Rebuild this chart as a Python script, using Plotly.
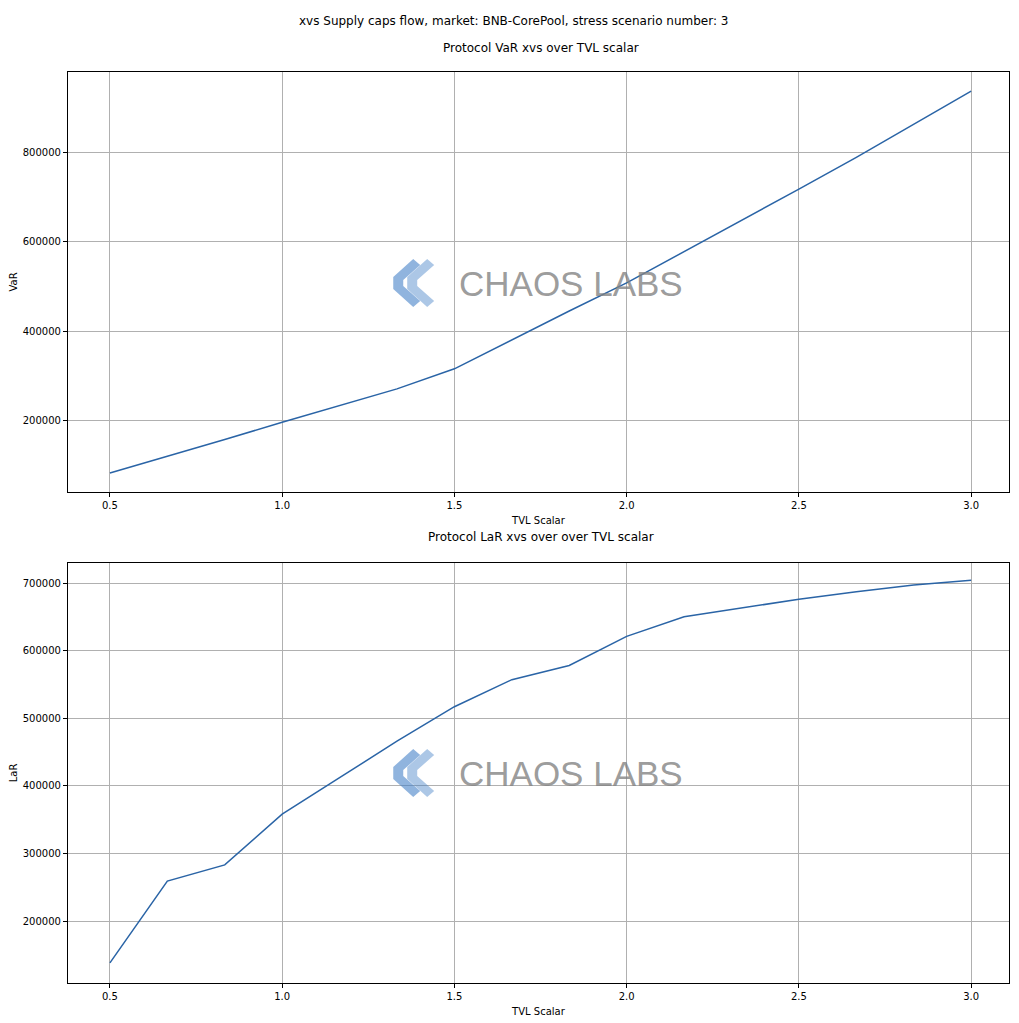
import plotly.graph_objects as go

tvl = [0.5, 0.6667, 0.8333, 1.0, 1.1667, 1.3333, 1.5, 1.6667, 1.8333, 2.0, 2.1667, 2.3333, 2.5, 2.6667, 2.8333, 3.0]
var_vals = [81000, 118000, 156000, 195000, 232000, 270000, 315000, 380000, 445000, 508000, 578000, 648000, 719000, 790000, 864000, 939000]
lar_vals = [138000, 259000, 283000, 358000, 412000, 466000, 517000, 557000, 578000, 621000, 650000, 663000, 676000, 687000, 697000, 704000]
xticks = [0.5, 1.0, 1.5, 2.0, 2.5, 3.0]

W, H = 1019, 1023
OFF = 8
fig = go.Figure()
fig.add_trace(go.Scatter(x=tvl, y=var_vals, mode="lines", line=dict(color="#2a64a6", width=1.5), xaxis="x", yaxis="y"))
fig.add_trace(go.Scatter(x=tvl, y=lar_vals, mode="lines", line=dict(color="#2a64a6", width=1.5), xaxis="x2", yaxis="y2"))

def px(x): return (x - OFF) / W
def py(y): return 1 - (y - OFF) / H

axcommon = dict(showline=True, linecolor="black", linewidth=1, mirror=True, showgrid=True, gridcolor="#b0b0b0",
                ticks="outside", ticklen=4, tickcolor="black", zeroline=False, tickfont=dict(size=10, color="black"))
fig.update_layout(
    width=W, height=H, showlegend=False, plot_bgcolor="white", paper_bgcolor="white",
    font=dict(family="DejaVu Sans", color="black"),
    margin=dict(l=0, r=0, t=0, b=0),
    xaxis=dict(domain=[px(66), px(1009)], range=[0.378, 3.11], tickvals=xticks, ticktext=["0.5","1.0","1.5","2.0","2.5","3.0"],
               anchor="y", title=dict(text="TVL Scalar", font=dict(size=10), standoff=6), **axcommon),
    yaxis=dict(domain=[py(492), py(72)], range=[38200, 982000], tickvals=[200000,400000,600000,800000], tickformat="d",
               anchor="x", title=dict(text="VaR", font=dict(size=10), standoff=8), **axcommon),
    xaxis2=dict(domain=[px(66), px(1009)], range=[0.378, 3.11], tickvals=xticks, ticktext=["0.5","1.0","1.5","2.0","2.5","3.0"],
                anchor="y2", title=dict(text="TVL Scalar", font=dict(size=10), standoff=6), **axcommon),
    yaxis2=dict(domain=[py(983), py(563)], range=[108300, 729600], tickvals=[200000,300000,400000,500000,600000,700000], tickformat="d",
                anchor="x2", title=dict(text="LaR", font=dict(size=10), standoff=8), **axcommon),
)
ann = [
    dict(text="xvs Supply caps flow, market: BNB-CorePool, stress scenario number: 3", x=px(512), y=py(21), size=12),
    dict(text="Protocol VaR xvs over TVL scalar", x=px(540), y=py(48), size=12),
    dict(text="Protocol LaR xvs over over TVL scalar", x=px(540), y=py(537), size=12),
]
for a in ann:
    fig.add_annotation(text=a["text"], x=a["x"], y=a["y"], xref="paper", yref="paper", showarrow=False,
                       font=dict(size=a["size"], color="black"), xanchor="center", yanchor="middle")
for cy in (283, 773):
    fig.add_annotation(text="CHAOS LABS", x=px(570), y=py(cy), xref="paper", yref="paper", showarrow=False,
                       font=dict(size=35, color="rgba(130,130,130,0.8)", family="Liberation Sans"), xanchor="center", yanchor="middle")
    for dx, op in ((0, 0.6), (14, 0.45)):
        x0 = 392 + dx
        path = (f"M {px(x0+20)},{py(cy-24)} L {px(x0)},{py(cy-6)} L {px(x0)},{py(cy+6)} L {px(x0+20)},{py(cy+24)} "
                f"L {px(x0+27)},{py(cy+18)} L {px(x0+10)},{py(cy+3)} L {px(x0+10)},{py(cy-3)} L {px(x0+27)},{py(cy-18)} Z")
        fig.add_shape(type="path", path=path, xref="paper", yref="paper", fillcolor=f"rgba(70,130,200,{op})", line=dict(width=0))
fig.write_html("out.html")
